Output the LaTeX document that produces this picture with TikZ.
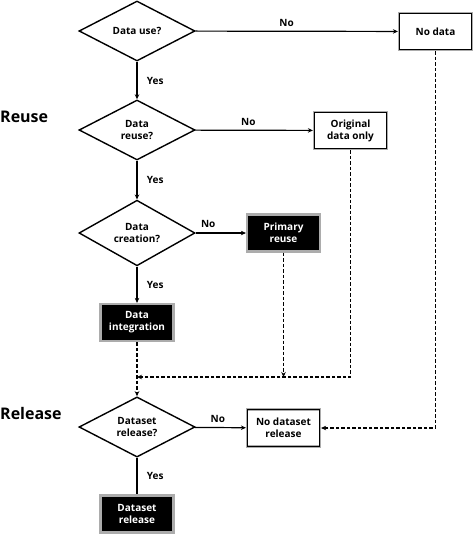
\documentclass[tikz,border=0pt]{standalone}
\usepackage{fontspec}
\setmainfont{Open Sans}
\usetikzlibrary{shapes.geometric,arrows.meta,positioning}

\begin{document}
\begin{tikzpicture}[x=1pt, y=-1pt, >={Stealth[length=5pt,width=4.5pt]},
    every node/.style={font=\bfseries\fontsize{10}{12}\selectfont, align=center},
    question/.style={diamond, draw, line width=1.4pt, fill=white, inner sep=0pt, minimum width=116pt, minimum height=60pt},
    outcome/.style={rectangle, draw=gray!65, line width=2.2pt, fill=white, minimum width=73pt, minimum height=37pt, inner sep=1pt},
    action/.style={outcome, fill=black, text=white},
    frame/.style={draw=black, line width=0.9pt},
    flow/.style={->, line width=1.2pt},
    back/.style={->, line width=1.2pt, dash pattern=on 3.5pt off 2pt},
    answer/.style={font=\bfseries\fontsize{10}{12}\selectfont},
    phase/.style={font=\bfseries\fontsize{16}{19}\selectfont, anchor=west, inner sep=0pt}]
    \useasboundingbox (0,0) rectangle (474,535);

    % main column
    \node (use) [question] at (137,31) {Data use?};
    \node (reuse) [question] at (137,130) {Data\\reuse?};
    \node (creation) [question] at (137,233) {Data\\creation?};
    \node (integration) [action] at (137,322.5) {Data\\integration};
    \node (relq) [question] at (137,427) {Dataset\\release?};
    \node (dsrel) [action] at (137,514) {Dataset\\release};

    % side outcomes
    \node (nodata) [outcome] at (435.5,31.5) {No data};
    \node (original) [outcome] at (350.5,130.5) {Original\\data only};
    \node (primary) [action] at (283.5,233) {Primary\\reuse};
    \node (nodsrel) [outcome] at (283.5,428) {No dataset\\release};

    % inner frame of the boxes
    \foreach \nd in {nodata, original, nodsrel}
        \draw[frame] ([shift={(1.5pt,-1.5pt)}]\nd.north west) rectangle ([shift={(-1.5pt,1.5pt)}]\nd.south east);

    % phase labels
    \node (reusehead) [phase] at (0,117) {Reuse};
    \node (releasehead) [phase] at (0,413) {Release};

    \coordinate (merge) at (137,377);

    \draw[flow] (use) -- node[answer, above=1pt, pos=0.45] {No} (nodata);
    \draw[flow] (use) -- node[answer, right=6pt] {Yes} (reuse);
    \draw[flow] (reuse) -- node[answer, above=1pt, pos=0.45] {No} (original);
    \draw[flow] (reuse) -- node[answer, right=6pt] {Yes} (creation);
    \draw[flow] (creation) -- node[answer, above=1pt, pos=0.25] {No} (primary);
    \draw[flow] (creation) -- node[answer, right=6pt] {Yes} (integration);
    \draw[flow] (relq) -- node[answer, above=1pt, pos=0.45] {No} (nodsrel);
    \draw[line width=1.2pt] (relq) -- node[answer, right=6pt] {Yes} (dsrel);

    % return paths
    \draw[back] (integration) -- (relq);
    \draw[back] (original.south) |- (merge);
    \draw[back] (primary.south) -- (primary.south |- merge);
    \draw[back] (nodata.south) |- (nodsrel.east);
\end{tikzpicture}
\end{document}
